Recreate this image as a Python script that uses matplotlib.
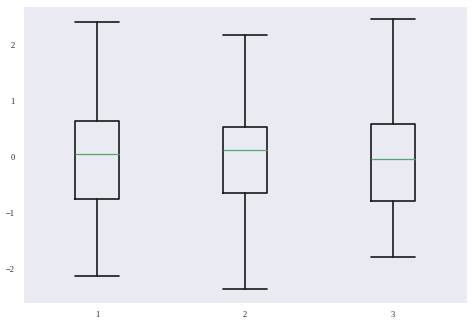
import matplotlib
matplotlib.use('Agg')
import matplotlib.pyplot as plt
import seaborn as sns

sns.set_style('dark')
plt.rcParams['font.family'] = ['Liberation Serif', 'DejaVu Serif']

# box statistics
labels = ['1', '2', '3']
medians = [0.05, 0.12, -0.04]
q1 = [-0.75, -0.64, -0.78]
q3 = [0.64, 0.53, 0.59]
whislo = [-2.13, -2.36, -1.78]
whishi = [2.40, 2.18, 2.45]

stats = []
for i in range(len(labels)):
    stats.append({'label': labels[i], 'med': medians[i], 'q1': q1[i], 'q3': q3[i],
                  'whislo': whislo[i], 'whishi': whishi[i], 'fliers': []})

fig = plt.figure(figsize=(4.74, 3.25), dpi=100)
ax = fig.add_axes([0.049, 0.068, 0.936, 0.914])
ax.bxp(stats, widths=0.3, capwidths=0.3,
       boxprops=dict(color='#1a1a1a', linewidth=1.2),
       whiskerprops=dict(color='#1a1a1a', linewidth=1.2),
       capprops=dict(color='#1a1a1a', linewidth=1.2),
       medianprops=dict(color='#55A868', linewidth=0.9))
ax.set_xlim(0.5, 3.5)
ax.tick_params(labelsize=6, length=0, pad=6)

plt.savefig('out.png', dpi=100)
